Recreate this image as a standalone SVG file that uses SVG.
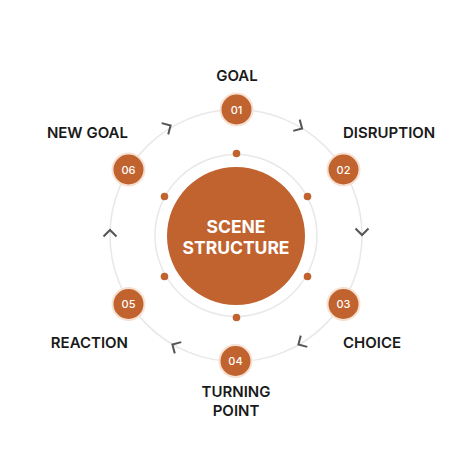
<svg xmlns="http://www.w3.org/2000/svg" width="474" height="474" viewBox="0 0 474 474">
<defs>
<style>
.ring{fill:none;stroke:#e8e8e8;stroke-width:1.5}
.node{fill:#c1632f;stroke:#f6e1d3;stroke-width:2}
.num{font-family:Inter,"Open Sans",sans-serif;font-size:11px;fill:#ffffff;text-anchor:middle;font-weight:500}
.lbl{font-family:Inter,"Open Sans",sans-serif;font-size:15px;font-weight:600;fill:#1a1a1a}
.dot{fill:#c1632f}
.chev{fill:none;stroke:#555555;stroke-width:2;stroke-linecap:butt;stroke-linejoin:miter}
.ctr{font-family:Inter,"Open Sans",sans-serif;font-size:17.5px;font-weight:700;fill:#ffffff;text-anchor:middle}
</style>
<path id="chv" d="M-6.5,-3.5 L0,3 L6.5,-3.5"/>
</defs>
<rect width="474" height="474" fill="#ffffff"/>
<g id="connectors">
<circle class="ring" cx="236" cy="235.5" r="126"/>
<circle class="ring" cx="236" cy="235.5" r="81"/>
<use href="#chv" class="chev" transform="translate(299.5,127) rotate(-60)"/>
<use href="#chv" class="chev" transform="translate(362,232) rotate(0)"/>
<use href="#chv" class="chev" transform="translate(301,343) rotate(60)"/>
<use href="#chv" class="chev" transform="translate(175,346) rotate(120)"/>
<use href="#chv" class="chev" transform="translate(110,233) rotate(180)"/>
<use href="#chv" class="chev" transform="translate(168,127) rotate(240)"/>
</g>
<g id="center">
<circle cx="236" cy="236" r="69" fill="#c1632f"/>
<text class="ctr" x="236" y="233">SCENE</text>
<text class="ctr" x="236" y="254">STRUCTURE</text>
<circle class="dot" cx="236.5" cy="153.5" r="3.8"/>
<circle class="dot" cx="307.5" cy="196.5" r="3.8"/>
<circle class="dot" cx="307.5" cy="276.5" r="3.8"/>
<circle class="dot" cx="236.5" cy="317.5" r="3.8"/>
<circle class="dot" cx="164.5" cy="276.5" r="3.8"/>
<circle class="dot" cx="164.5" cy="196.5" r="3.8"/>
</g>
<g id="node01">
<circle class="node" cx="236.5" cy="109.5" r="16"/>
<text class="num" x="236.5" y="113.5">01</text>
<text class="lbl" x="237" y="81" text-anchor="middle">GOAL</text>
</g>
<g id="node02">
<circle class="node" cx="343.5" cy="169.5" r="16"/>
<text class="num" x="343.5" y="173.5">02</text>
<text class="lbl" x="343" y="138">DISRUPTION</text>
</g>
<g id="node03">
<circle class="node" cx="343.5" cy="304" r="16"/>
<text class="num" x="343.5" y="308">03</text>
<text class="lbl" x="343" y="348">CHOICE</text>
</g>
<g id="node04">
<circle class="node" cx="235.5" cy="361" r="16"/>
<text class="num" x="235.5" y="365">04</text>
<text class="lbl" x="236" y="397" text-anchor="middle">TURNING</text>
<text class="lbl" x="236" y="416" text-anchor="middle">POINT</text>
</g>
<g id="node05">
<circle class="node" cx="128.5" cy="304" r="16"/>
<text class="num" x="128.5" y="308">05</text>
<text class="lbl" x="128" y="348" text-anchor="end">REACTION</text>
</g>
<g id="node06">
<circle class="node" cx="128.5" cy="169.5" r="16"/>
<text class="num" x="128.5" y="173.5">06</text>
<text class="lbl" x="128" y="138" text-anchor="end">NEW GOAL</text>
</g>
</svg>
